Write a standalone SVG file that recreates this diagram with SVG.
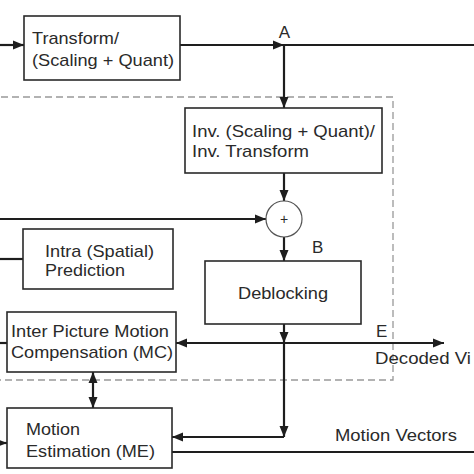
<svg xmlns="http://www.w3.org/2000/svg" width="474" height="474" viewBox="0 0 474 474">
<style>
.box{fill:#fff;stroke:#2a2a2a;stroke-width:1.6}
.ln{fill:none;stroke:#1e1e1e;stroke-width:2.2}
.dash{fill:none;stroke:#999;stroke-width:1.3;stroke-dasharray:7 4}
text{font-family:"Liberation Sans",Arial,sans-serif;font-size:17px;fill:#2a2a2a}
</style>
<defs>
<marker id="ah" markerWidth="11" markerHeight="11" viewBox="0 0 11 11" refX="11" refY="5.5" orient="auto-start-reverse" markerUnits="userSpaceOnUse">
<path d="M0,1 L11,5.5 L0,10 Z" fill="#1e1e1e"/>
</marker>
</defs>
<rect width="474" height="474" fill="#fff"/>
<rect class="dash" x="-10" y="97" width="403" height="283"/>
<g id="connectors">
<line class="ln" x1="0" y1="45" x2="24" y2="45" marker-end="url(#ah)"/>
<line class="ln" x1="180" y1="45" x2="284" y2="45" marker-end="url(#ah)"/>
<line class="ln" x1="284" y1="45" x2="474" y2="45"/>
<line class="ln" x1="284" y1="45" x2="284" y2="108" marker-end="url(#ah)"/>
<line class="ln" x1="284" y1="173" x2="284" y2="201" marker-end="url(#ah)"/>
<line class="ln" x1="0" y1="219" x2="266" y2="219" marker-end="url(#ah)"/>
<line class="ln" x1="284" y1="237" x2="284" y2="261" marker-end="url(#ah)"/>
<line class="ln" x1="0" y1="259" x2="23" y2="259"/>
<line class="ln" x1="284" y1="324" x2="284" y2="343" marker-end="url(#ah)"/>
<line class="ln" x1="284" y1="343" x2="176" y2="343" marker-end="url(#ah)"/>
<line class="ln" x1="284" y1="343" x2="444" y2="343" marker-end="url(#ah)"/>
<line class="ln" x1="0" y1="343" x2="7" y2="343"/>
<line class="ln" x1="93" y1="390" x2="93" y2="372" marker-end="url(#ah)"/>
<line class="ln" x1="93" y1="390" x2="93" y2="408" marker-end="url(#ah)"/>
<line class="ln" x1="284" y1="343" x2="284" y2="437" marker-end="url(#ah)"/>
<line class="ln" x1="284" y1="437" x2="172" y2="437" marker-end="url(#ah)"/>
<line class="ln" x1="0" y1="443" x2="7" y2="443" marker-end="url(#ah)"/>
<line class="ln" x1="172" y1="452" x2="474" y2="452"/>
</g>
<g id="transform">
<rect class="box" x="24" y="16" width="156" height="64"/>
<text x="32" y="44" textLength="87" lengthAdjust="spacingAndGlyphs">Transform/</text>
<text x="32" y="66" textLength="142" lengthAdjust="spacingAndGlyphs">(Scaling + Quant)</text>
</g>
<g id="invtransform">
<rect class="box" x="185" y="108" width="197" height="65"/>
<text x="192" y="137" textLength="183" lengthAdjust="spacingAndGlyphs">Inv. (Scaling + Quant)/</text>
<text x="192" y="157" textLength="117" lengthAdjust="spacingAndGlyphs">Inv. Transform</text>
</g>
<g id="adder">
<circle cx="284" cy="219" r="18" fill="#fff" stroke="#555" stroke-width="1.2"/>
<text x="284" y="224" text-anchor="middle" style="font-size:14px">+</text>
</g>
<g id="intra">
<rect class="box" x="23" y="229" width="150" height="60"/>
<text x="45" y="257" textLength="109" lengthAdjust="spacingAndGlyphs">Intra (Spatial)</text>
<text x="45" y="276" textLength="80" lengthAdjust="spacingAndGlyphs">Prediction</text>
</g>
<g id="deblocking">
<rect class="box" x="205" y="261" width="156" height="63"/>
<text x="238" y="299" textLength="90" lengthAdjust="spacingAndGlyphs">Deblocking</text>
</g>
<g id="mc">
<rect class="box" x="7" y="312" width="169" height="60"/>
<text x="11" y="337" textLength="158" lengthAdjust="spacingAndGlyphs">Inter Picture Motion</text>
<text x="11" y="358" textLength="162" lengthAdjust="spacingAndGlyphs">Compensation (MC)</text>
</g>
<g id="me">
<rect class="box" x="7" y="408" width="165" height="60"/>
<text x="26" y="435" textLength="54" lengthAdjust="spacingAndGlyphs">Motion</text>
<text x="26" y="457" textLength="129" lengthAdjust="spacingAndGlyphs">Estimation (ME)</text>
</g>
<g id="labels">
<text x="284.5" y="38" text-anchor="middle">A</text>
<text x="312" y="253">B</text>
<text x="376" y="337">E</text>
<text x="375" y="364" textLength="96" lengthAdjust="spacingAndGlyphs">Decoded Vi</text>
<text x="335" y="441" textLength="122" lengthAdjust="spacingAndGlyphs">Motion Vectors</text>
</g>
</svg>
